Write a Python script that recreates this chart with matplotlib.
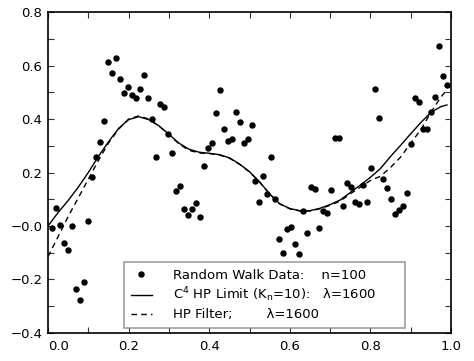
import numpy as np
import matplotlib.pyplot as plt
from matplotlib.ticker import MultipleLocator, FixedLocator, FixedFormatter

# Random walk data, n=100 (x = i/101)
walk_y = [
    -0.007, 0.067, 0.004, -0.064, -0.091, -0.001, -0.235, -0.279, -0.210, 0.018,
    0.183, 0.258, 0.313, 0.393, 0.614, 0.572, 0.628, 0.550, 0.497, 0.519,
    0.489, 0.478, 0.512, 0.565, 0.479, 0.399, 0.259, 0.457, 0.445, 0.345,
    0.272, 0.131, 0.148, 0.064, 0.040, 0.063, 0.086, 0.032, 0.224, 0.293,
    0.309, 0.423, 0.509, 0.362, 0.318, 0.325, 0.425, 0.389, 0.309, 0.327,
    0.378, 0.167, 0.088, 0.188, 0.121, 0.258, 0.100, -0.050, -0.100, -0.010,
    -0.005, -0.068, -0.106, 0.055, -0.028, 0.145, 0.137, -0.009, 0.057, 0.048,
    0.133, 0.330, 0.330, 0.073, 0.161, 0.145, 0.091, 0.082, 0.154, 0.088,
    0.218, 0.514, 0.405, 0.175, 0.143, 0.100, 0.045, 0.060, 0.076, 0.124,
    0.307, 0.478, 0.463, 0.362, 0.362, 0.425, 0.484, 0.673, 0.560, 0.528,
]
n = len(walk_y)
walk_x = np.arange(1, n + 1) / (n + 1)

# trend curves
curve_x = [0.0, 0.025, 0.05, 0.075, 0.1, 0.125, 0.15, 0.175, 0.2, 0.225,
           0.25, 0.275, 0.3, 0.325, 0.35, 0.375, 0.4, 0.425, 0.45, 0.475,
           0.5, 0.525, 0.55, 0.575, 0.6, 0.625, 0.65, 0.675, 0.7, 0.725,
           0.75, 0.775, 0.8, 0.825, 0.85, 0.875, 0.9, 0.925, 0.95, 0.975, 0.99]
c4_limit = [0.000, 0.050, 0.095, 0.145, 0.200, 0.260, 0.315, 0.365, 0.398, 0.409,
            0.398, 0.375, 0.343, 0.310, 0.287, 0.276, 0.272, 0.267, 0.255, 0.232,
            0.203, 0.165, 0.120, 0.083, 0.065, 0.057, 0.057, 0.066, 0.080, 0.097,
            0.125, 0.153, 0.182, 0.215, 0.260, 0.302, 0.345, 0.387, 0.425, 0.447, 0.453]
hp_filter = [-0.115, -0.040, 0.035, 0.105, 0.175, 0.245, 0.310, 0.362, 0.400, 0.412,
             0.400, 0.375, 0.342, 0.307, 0.283, 0.273, 0.271, 0.266, 0.254, 0.231,
             0.202, 0.164, 0.119, 0.082, 0.064, 0.056, 0.056, 0.064, 0.077, 0.093,
             0.120, 0.145, 0.170, 0.186, 0.219, 0.258, 0.310, 0.360, 0.425, 0.483, 0.509]

y_ticks = [-0.4, -0.2, 0.0, 0.2, 0.4, 0.6, 0.8]
y_labels = ["\u22120.4", "\u22120.2", "\u22120.0", "0.2", "0.4", "0.6", "0.8"]
x_ticks = [0.0, 0.2, 0.4, 0.6, 0.8, 1.0]
x_labels = ["0.0", "0.2", "0.4", "0.6", "0.8", "1.0"]

plt.rcParams["font.family"] = ["DejaVu Sans"]
plt.rcParams["font.size"] = 9.5

fig = plt.figure(figsize=(4.74, 3.61), dpi=100)
ax = fig.add_axes([0.1013, 0.0784, 0.8502, 0.8875])

ax.plot(walk_x, walk_y, "o", color="black", markersize=3.6, linestyle="none",
        label="Random Walk Data:    n=100")
ax.plot(curve_x, c4_limit, "-", color="black", linewidth=1.0,
        label=r"C$^{\mathregular{4}}$ HP Limit (K$_{\mathregular{n}}$=10):   λ=1600")
ax.plot(curve_x, hp_filter, "--", color="black", linewidth=1.0, dashes=(4, 3),
        label="HP Filter;        λ=1600")

ax.set_xlim(0.0, 1.0)
ax.set_ylim(-0.4, 0.8)

ax.xaxis.set_major_locator(FixedLocator(x_ticks))
ax.xaxis.set_major_formatter(FixedFormatter(x_labels))
ax.xaxis.set_minor_locator(MultipleLocator(0.1))
ax.yaxis.set_major_locator(FixedLocator(y_ticks))
ax.yaxis.set_major_formatter(FixedFormatter(y_labels))
ax.yaxis.set_minor_locator(MultipleLocator(0.1))

ax.tick_params(which="both", direction="in", top=True, right=True,
               length=4, width=0.8, color="#333333")
ax.tick_params(axis="x", pad=5)
ax.tick_params(axis="y", pad=4)
for sp in ax.spines.values():
    sp.set_linewidth(1.2)

# first x label sits right of the tick
ax.get_xticklabels()[0].set_horizontalalignment("left")

leg = ax.legend(loc="lower left", bbox_to_anchor=(0.189, 0.015, 0.697, 0.207),
                mode="expand", borderaxespad=0, numpoints=1, fancybox=False,
                handlelength=1.6, handletextpad=1.6, labelspacing=0.3,
                borderpad=0.5, fontsize=9.5)
leg.get_frame().set_edgecolor("#888888")
leg.get_frame().set_linewidth(1.2)

fig.savefig("out.png", dpi=100)
